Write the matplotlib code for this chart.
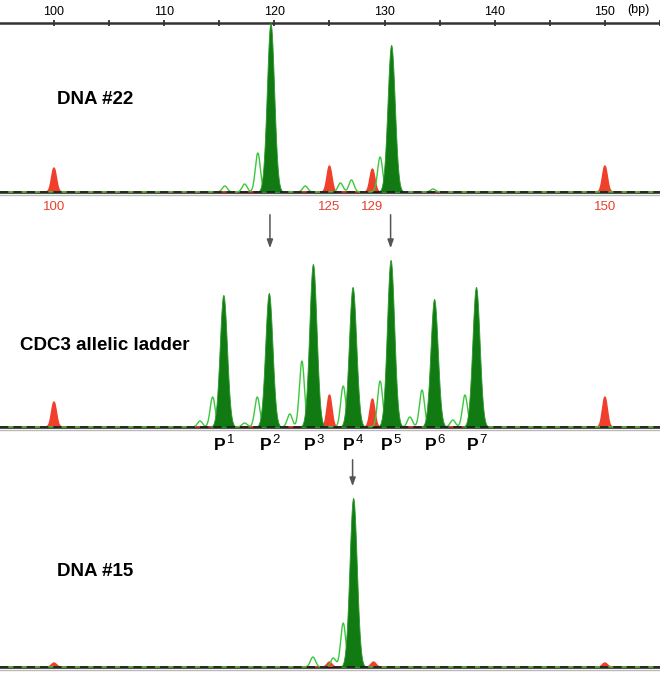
import numpy as np
import matplotlib
matplotlib.use('Agg')
import matplotlib.pyplot as plt
from matplotlib.ticker import MultipleLocator

plt.rcParams['font.family'] = ['Liberation Sans', 'DejaVu Sans']

# ── data (bp, relative signal) ───────────────────────────────────────────────
dna22_allele_bp = [119.65, 130.6]
dna22_allele_h = [169, 147]
dna22_minor_bp = [115.5, 117.3, 118.5, 122.8, 126.0, 127.0, 129.6, 134.4]
dna22_minor_h = [6, 8, 39, 6, 9, 12, 35, 3]
dna22_std_bp = [100, 125, 128.9, 150]
dna22_std_h = [24, 26, 23, 26]

ladder_allele_bp = [115.37, 119.5, 123.5, 127.1, 130.55, 134.5, 138.3]
ladder_allele_h = [132, 134, 163, 140, 167, 128, 140]
ladder_allele_names = ['1', '2', '3', '4', '5', '6', '7']
ladder_minor_bp = [113.25, 114.4, 117.3, 118.45, 121.4, 122.5, 126.25,
                   129.6, 132.3, 133.4, 136.2, 137.3]
ladder_minor_h = [6, 30, 4, 30, 13, 66, 41, 46, 10, 37, 7, 32]
ladder_std_bp = [100, 125, 128.9, 150]
ladder_std_h = [25, 32, 28, 30]
size_std_labels = ['100', '125', '129', '150']

dna15_allele_bp = [127.15]
dna15_allele_h = [169]
dna15_minor_bp = [123.5, 125.35, 126.25]
dna15_minor_h = [10, 9, 44]
dna15_std_bp = [100, 125, 129, 150]
dna15_std_h = [4, 5, 5, 4]

ladder_arrow_bp = [119.6, 130.55]
dna15_arrow_bp = [127.1]

# ── styling ──────────────────────────────────────────────────────────────────
SIG_ALLELE = 0.33
SIG_MINOR = 0.23
SIG_STD = 0.22
DARK_GREEN = '#127a12'
LIGHT_GREEN = '#3cc83c'
RED = '#f0402c'

W, H = 660, 678
x = np.linspace(95.0, 155.5, 5000)


def gauss(mu, h, s):
    return h * np.exp(-0.5 * ((x - mu) / s) ** 2)


def add_axes(fig, top_px, bot_px):
    ax = fig.add_axes([0, 1 - bot_px / H, 1, (bot_px - top_px) / H])
    ax.set_facecolor('none')
    for sp in ax.spines.values():
        sp.set_visible(False)
    ax.set_xlim(95.1, 155.0)
    ax.set_yticks([])
    return ax


def draw_panel(ax, allele_bp, allele_h, minor_bp, minor_h, std_bp, std_h):
    red = np.zeros_like(x)
    for mu, h in zip(std_bp, std_h):
        red += gauss(mu, h, SIG_STD)
    green = np.zeros_like(x)
    for mu, h in zip(minor_bp, minor_h):
        green += gauss(mu, h, SIG_MINOR)
    ax.axhline(-2.5, color='#bbbbbb', lw=1.0, zorder=0)
    ax.axhline(0, color='#1a1a1a', lw=1.8, zorder=1)
    ax.fill_between(x, 0, red, color=RED, lw=0, zorder=2)
    ax.plot(x, red, color=RED, lw=1.0, zorder=2)
    ax.plot(x, green, color=LIGHT_GREEN, lw=1.0, zorder=3)
    for mu, h in zip(allele_bp, allele_h):
        g = gauss(mu, h, SIG_ALLELE)
        m = g > 0.3
        ax.fill_between(x[m], 0, g[m], color=DARK_GREEN,
                        edgecolor='#2a9a2a', lw=0.6, zorder=4)
    ax.plot(x, np.zeros_like(x), color='#1a1a1a', lw=1.2,
            dashes=(5, 3), zorder=5)


def draw_arrow(ax, bp, y0, y1):
    ax.annotate('', xy=(bp, y1), xytext=(bp, y0),
                arrowprops=dict(arrowstyle='-|>,head_length=0.5,head_width=0.18',
                                color='#555555', lw=1.1),
                annotation_clip=False)


fig = plt.figure(figsize=(W / 100, H / 100), dpi=100)

# ── panel 1: DNA #22 (carries the bp scale on top) ───────────────────────────
ax1 = add_axes(fig, 23, 198)
ax1.set_ylim(-6, 169)
draw_panel(ax1, dna22_allele_bp, dna22_allele_h, dna22_minor_bp, dna22_minor_h,
           dna22_std_bp, dna22_std_h)
ax1.spines['top'].set_visible(True)
ax1.spines['top'].set_color('#333333')
ax1.spines['top'].set_linewidth(1.8)
ax1.xaxis.set_ticks_position('top')
ax1.xaxis.set_major_locator(MultipleLocator(10))
ax1.xaxis.set_minor_locator(MultipleLocator(5))
ax1.tick_params(axis='x', which='both', direction='inout', length=5,
                width=1.3, color='#333333', labelsize=9, pad=1)
ax1.tick_params(axis='x', which='minor', labeltop=False)
fig.text(638 / W, 1 - 10.5 / H, '(bp)', ha='center', va='center', fontsize=9)

# ── panel 2: CDC3 allelic ladder ─────────────────────────────────────────────
ax2 = add_axes(fig, 198, 440)
ax2.set_ylim(-13, 229)
draw_panel(ax2, ladder_allele_bp, ladder_allele_h, ladder_minor_bp,
           ladder_minor_h, ladder_std_bp, ladder_std_h)
for bp, lab in zip(ladder_std_bp, size_std_labels):
    ax2.text(bp, 220, lab, color='#e8402a', ha='center', va='center',
             fontsize=9.5)
for bp in ladder_arrow_bp:
    draw_arrow(ax2, bp, 215, 176)
for bp, name in zip(ladder_allele_bp, ladder_allele_names):
    ax2.annotate('P', xy=(bp, -19), xytext=(-2.5, 0), textcoords='offset points',
                 ha='center', va='center', fontsize=12.5, fontweight='bold',
                 annotation_clip=False)
    ax2.annotate(name, xy=(bp, -19), xytext=(5, 4), textcoords='offset points',
                 ha='center', va='center', fontsize=9.5,
                 annotation_clip=False)

# ── panel 3: DNA #15 ─────────────────────────────────────────────────────────
ax3 = add_axes(fig, 440, 678)
ax3.set_ylim(-11, 227)
draw_panel(ax3, dna15_allele_bp, dna15_allele_h, dna15_minor_bp, dna15_minor_h,
           dna15_std_bp, dna15_std_h)
for bp in dna15_arrow_bp:
    draw_arrow(ax3, bp, 210, 178)

for ax in (ax2, ax3):
    ax.set_xticks([])

# sample names
fig.text(57 / W, 1 - 100 / H, 'DNA #22', fontsize=13.5, fontweight='bold',
         va='center', ha='left')
fig.text(20 / W, 1 - 346 / H, 'CDC3 allelic ladder', fontsize=13.5,
         fontweight='bold', va='center', ha='left')
fig.text(57 / W, 1 - 572 / H, 'DNA #15', fontsize=13.5, fontweight='bold',
         va='center', ha='left')

fig.savefig('out.png', dpi=100)
